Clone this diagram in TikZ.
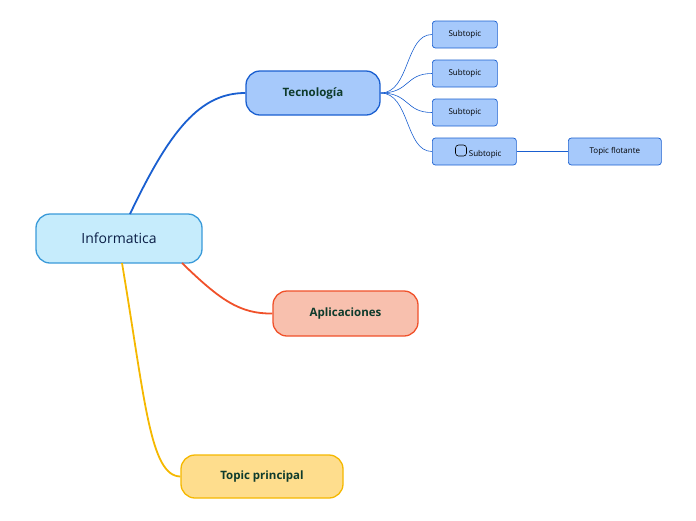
\documentclass[tikz,border=0pt]{standalone}
\usepackage{fontspec}
\setmainfont{Open Sans}
\definecolor{tecf}{HTML}{A6C9FB}\definecolor{tecd}{HTML}{1A5FD0}
\definecolor{inf}{HTML}{C6ECFC}\definecolor{ind}{HTML}{3A9AD9}
\definecolor{apf}{HTML}{F8C0AE}\definecolor{apd}{HTML}{F0512A}
\definecolor{tpf}{HTML}{FEDD8D}\definecolor{tpd}{HTML}{F5B800}
\definecolor{txt}{HTML}{0E3B2C}
\begin{document}
\begin{tikzpicture}[x=1pt,y=-1pt,
 main/.style={rounded corners=14pt,line width=1.3pt,minimum height=45pt,font=\bfseries\fontsize{11.5}{13}\selectfont,text=txt,inner sep=0pt},
 sub/.style={rounded corners=3pt,draw=tecd,fill=tecf,line width=0.7pt,minimum height=27pt,font=\fontsize{8}{9}\selectfont,text=black,inner sep=0pt,anchor=west}]
\useasboundingbox (0,0) rectangle (696,520);
\node[main,draw=ind,fill=inf,minimum width=166pt,minimum height=49pt,font=\fontsize{14}{16}\selectfont,text={rgb,255:red,10;green,30;blue,70}] (inf) at (119,238.5) {Informatica};
\node[main,draw=tecd,fill=tecf,minimum width=134pt,minimum height=44pt] (tec) at (313,93) {Tecnología};
\node[main,draw=apd,fill=apf,minimum width=145pt] (ap) at (345.5,313.5) {Aplicaciones};
\node[main,draw=tpd,fill=tpf,minimum width=162pt,minimum height=43pt] (tp) at (262,476.5) {Topic principal};
\node[sub,minimum width=65pt] (s1) at (432,34.5) {Subtopic};
\node[sub,minimum width=65pt] (s2) at (432,73.5) {Subtopic};
\node[sub,minimum width=65pt] (s3) at (432,112.5) {Subtopic};
\node[sub,minimum width=84pt] (s4) at (432,151.5) {\hspace{8pt}\tikz\draw[black,line width=0.6pt] (0,0) rectangle (11pt,-11pt);\ Subtopic\hspace{8pt}};
\node[sub,minimum width=93pt] (fl) at (568,151.5) {Topic flotante};
\draw[tecd,line width=1.8pt] (130,214) .. controls (170,130) and (200,93) .. (tec.west);
\draw[apd,line width=1.8pt] (182,263) .. controls (220,300) and (240,314) .. (ap.west);
\draw[tpd,line width=1.8pt] (122,263) .. controls (145,400) and (150,476) .. (tp.west);
\foreach \s in {s1,s2,s3,s4}
  \draw[tecd,line width=0.6pt] (tec.east) .. controls (410,93) and (405,0|-\s.west) .. (\s.west);
\draw[tecd,line width=0.6pt] (s4.east) -- (fl.west);
\end{tikzpicture}
\end{document}
